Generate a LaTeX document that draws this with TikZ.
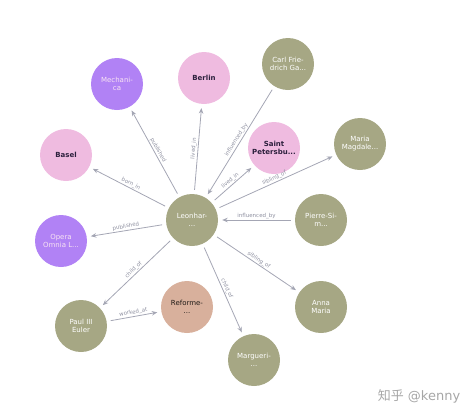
\documentclass[tikz,border=0pt]{standalone}
\usepackage{fontspec}
\setmainfont{DejaVu Sans}
\newfontfamily\cjk{Noto Sans CJK SC}
\usetikzlibrary{arrows.meta}

\definecolor{olive}{HTML}{A6A784}
\definecolor{pinky}{HTML}{EFBBE0}
\definecolor{violet}{HTML}{B182F5}
\definecolor{peach}{HTML}{D8B09C}
\definecolor{edgegray}{HTML}{A4A6B4}
\definecolor{lblgray}{HTML}{8E90A0}

\begin{document}
\begin{tikzpicture}[x=1pt, y=-1pt,
    ent/.style={circle, minimum size=52pt, inner sep=0pt, align=center,
        font=\fontsize{7}{8}\selectfont},
    person/.style={ent, fill=olive, text=white},
    place/.style={ent, fill=pinky, text=black!75!violet},
    work/.style={ent, fill=violet, text=pinky!40!white},
    org/.style={ent, fill=peach, text=black!85!peach},
    rel/.style={draw=edgegray, line width=0.8pt, shorten >=4pt, shorten <=4pt,
        -{Stealth[length=5.5pt, width=4.5pt]}},
    lbl/.style={midway, sloped, above, inner sep=1pt, text=lblgray,
        font=\fontsize{5.5}{6.5}\selectfont}]
    \useasboundingbox (0,0) rectangle (474,418);

    % Centre node
    \node[person] (leonhard) at (192,220) {Leonhar-\\...};

    % Surrounding nodes
    \node[work]   (mechanica) at (117,84)  {Mechani-\\ca};
    \node[place]  (berlin)    at (204,78)  {\textbf{Berlin}};
    \node[person] (gauss)     at (288,64)  {Carl Frie-\\drich Ga...};
    \node[place]  (basel)     at (66,155)  {\textbf{Basel}};
    \node[place]  (petersburg) at (274,148) {\textbf{Saint}\\\textbf{Petersbu...}};
    \node[person] (magdalena) at (360,144) {Maria\\Magdale...};
    \node[person] (laplace)   at (321,220) {Pierre-Si-\\m...};
    \node[work]   (opera)     at (61,241)  {Opera\\Omnia L...};
    \node[person] (annamaria) at (321,307) {Anna\\Maria};
    \node[org]    (reformed)  at (187,307) {Reforme-\\...};
    \node[person] (paul)      at (81,326)  {Paul III\\Euler};
    \node[person] (marguerite) at (254,360) {Margueri-\\...};

    % Relations
    \draw[rel] (leonhard) -- node[lbl] {published} (mechanica);
    \draw[rel] (leonhard) -- node[lbl] {lived\_in} (berlin);
    \draw[rel] (gauss) -- node[lbl] {influenced\_by} (leonhard);
    \draw[rel] (leonhard) -- node[lbl] {lived\_in} (petersburg);
    \draw[rel] (leonhard) -- node[lbl] {born\_in} (basel);
    \draw[rel] (leonhard) -- node[lbl] {sibling\_of} (magdalena);
    \draw[rel] (laplace) -- node[lbl] {influenced\_by} (leonhard);
    \draw[rel] (leonhard) -- node[lbl] {published} (opera);
    \draw[rel] (leonhard) -- node[lbl] {sibling\_of} (annamaria);
    \draw[rel] (leonhard) -- node[lbl] {child\_of} (marguerite);
    \draw[rel] (leonhard) -- node[lbl] {child\_of} (paul);
    \draw[rel] (paul) -- node[lbl] {worked\_at} (reformed);

    % Watermark
    \node[text=black!35, font=\fontsize{13}{15}\selectfont] (mark) at (419,396)
        {{\cjk 知乎} @kenny};
\end{tikzpicture}
\end{document}
